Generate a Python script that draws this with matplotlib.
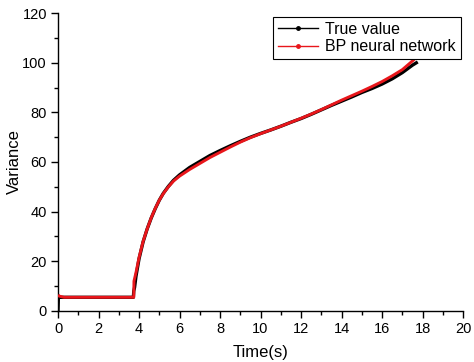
import matplotlib
matplotlib.use("Agg")
import matplotlib.pyplot as plt
from matplotlib.lines import Line2D
from matplotlib.ticker import MultipleLocator

plt.rcParams['font.family'] = ['Liberation Sans', 'DejaVu Sans']

# True value series (time in s, variance)
true_t = [0.0, 0.02, 0.1, 1.0, 2.0, 3.0, 3.72, 3.74, 3.78, 3.85, 4.0, 4.2, 4.4, 4.6, 4.8,
          5.0, 5.2, 5.45, 5.7, 6.0, 6.5, 7.0, 7.5, 8.0, 8.5, 9.0, 9.5, 10.0, 10.5, 11.0,
          11.5, 12.0, 12.5, 13.0, 13.5, 14.0, 14.5, 15.0, 15.5, 16.0, 16.5, 17.0, 17.3,
          17.5, 17.76]
true_v = [0.0, 6.0, 5.5, 5.5, 5.5, 5.5, 5.5, 8.0, 9.5, 14.0, 21.0, 27.8, 33.0, 37.4, 41.2,
          44.6, 47.4, 50.2, 52.6, 54.8, 57.8, 60.2, 62.6, 64.6, 66.5, 68.3, 70.0, 71.5, 72.9,
          74.4, 76.0, 77.5, 79.2, 81.0, 82.8, 84.5, 86.2, 88.0, 89.6, 91.4, 93.5, 96.0, 97.8,
          99.0, 100.3]

# BP neural network prediction series
bp_t = [0.0, 0.05, 0.3, 1.0, 2.0, 3.0, 3.74, 3.75, 3.85, 4.0, 4.2, 4.4, 4.6, 4.8, 5.0,
        5.2, 5.45, 5.7, 6.0, 6.5, 7.0, 7.5, 8.0, 8.5, 9.0, 9.5, 10.0, 10.5, 11.0, 11.5,
        12.0, 12.5, 13.0, 13.5, 14.0, 14.5, 15.0, 15.5, 16.0, 16.5, 17.0, 17.3, 17.6]
bp_v = [6.5, 6.0, 5.5, 5.5, 5.5, 5.5, 5.5, 12.0, 15.5, 21.5, 28.0, 33.0, 37.5, 41.3, 44.6,
        47.3, 50.0, 52.3, 54.3, 57.0, 59.4, 61.8, 63.9, 66.0, 68.0, 69.8, 71.4, 72.9, 74.4,
        76.0, 77.6, 79.3, 81.1, 83.0, 84.9, 86.7, 88.5, 90.4, 92.4, 94.7, 97.2, 99.3, 101.4]

x_ticks = [0, 2, 4, 6, 8, 10, 12, 14, 16, 18, 20]
y_ticks = [0, 20, 40, 60, 80, 100, 120]

fig = plt.figure(figsize=(4.74, 3.62), dpi=100)
ax = fig.add_axes([0.1224, 0.141, 0.8546, 0.823])

ax.plot(true_t, true_v, color='black', lw=2.4, solid_capstyle='butt',
        solid_joinstyle='round', zorder=2)
ax.plot(bp_t, bp_v, color='#e8161b', lw=2.1, solid_capstyle='butt',
        solid_joinstyle='round', zorder=3)

ax.set_xlim(0, 20)
ax.set_ylim(0, 120)
ax.set_xticks(x_ticks)
ax.set_yticks(y_ticks)
ax.xaxis.set_minor_locator(MultipleLocator(1))
ax.yaxis.set_minor_locator(MultipleLocator(10))

for s in ['top', 'right']:
    ax.spines[s].set_visible(False)
for s in ['left', 'bottom']:
    ax.spines[s].set_linewidth(1.0)

ax.tick_params(axis='both', which='major', direction='out', length=5, width=1,
               labelsize=10.5, pad=3)
ax.tick_params(axis='both', which='minor', direction='out', length=3, width=1)

ax.set_xlabel('Time(s)', fontsize=12)
ax.xaxis.set_label_coords(0.5, -0.115)
ax.set_ylabel('Variance', fontsize=12)
ax.yaxis.set_label_coords(-0.088, 0.5)

handles = [
    Line2D([], [], color='black', lw=1.0, marker='o', markersize=2.5),
    Line2D([], [], color='#e8161b', lw=1.0, marker='o', markersize=2.5),
]
leg = ax.legend(handles, ['True value', 'BP neural network'], loc='upper right',
                fontsize=11.5, frameon=True, fancybox=False, edgecolor='black',
                framealpha=1, borderaxespad=0.15, handlelength=2.5,
                handletextpad=0.45, borderpad=0.3, labelspacing=0.15,
                bbox_to_anchor=(1.0, 0.995))
leg.get_frame().set_linewidth(0.8)

fig.savefig('out.png', dpi=100)
